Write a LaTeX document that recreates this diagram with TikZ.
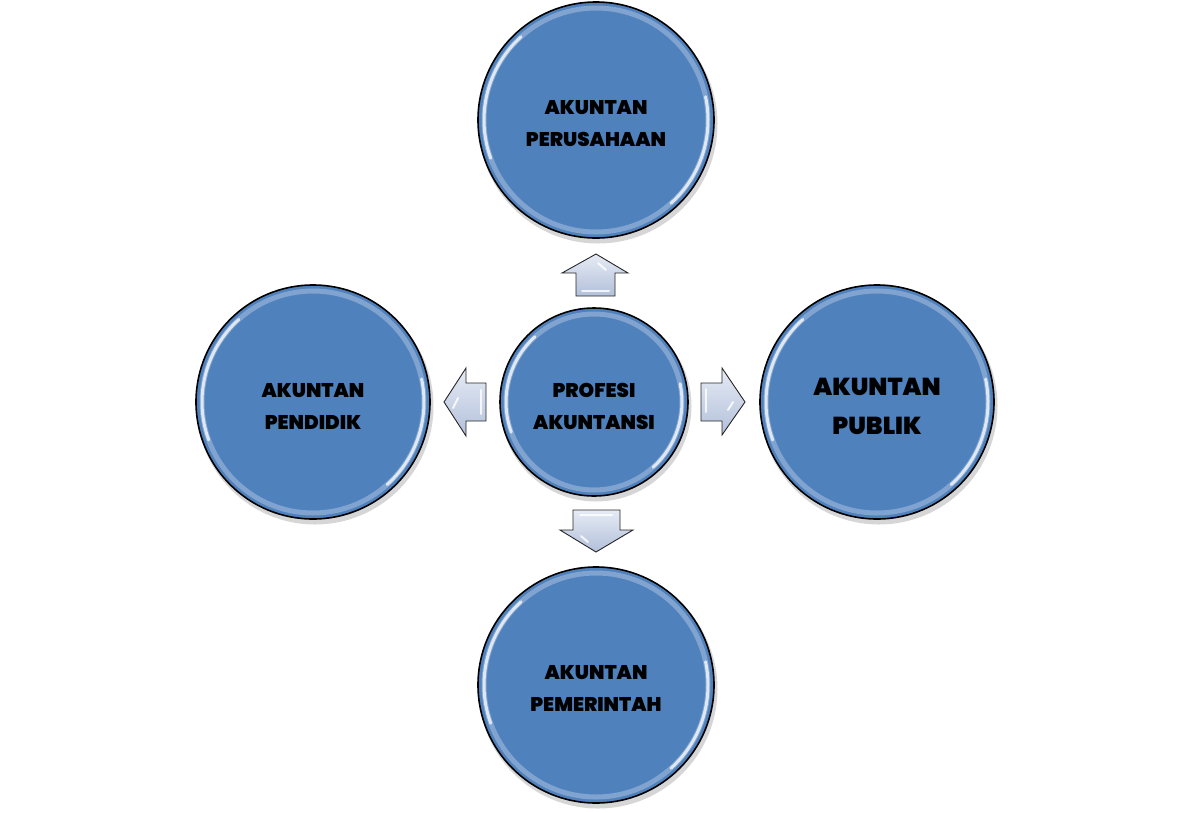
\documentclass[tikz,border=0pt]{standalone}
\usepackage{fontspec}
\setmainfont{Poppins}
\newfontfamily\heavy{Poppins Black}
\definecolor{bubfill}{HTML}{4F81BD}
\definecolor{arrA}{HTML}{E6EBF5}
\definecolor{arrB}{HTML}{B2C0DA}
\begin{document}
\begin{tikzpicture}[x=1pt,y=-1pt,
  bub/.style={circle, draw=black, line width=1.6pt, fill=bubfill, inner sep=0pt},
  txt/.style={align=center, text=black, inner sep=0pt, font=\heavy\fontsize{19.8}{32}\selectfont},
  bigtext/.style={font=\heavy\fontsize{24.5}{39}\selectfont},
  shade/.style={fill=black, opacity=0.16},
  glowring/.style={draw=white, opacity=0.28, line width=5pt},
  glowarc/.style={draw=white, opacity=0.75, line width=3pt, line cap=round},
  blockarrow/.style={draw=black!85, line width=0.9pt, top color=arrA, bottom color=arrB, line join=miter},
  bevel/.style={draw=white, opacity=0.8, line width=2pt, line cap=round}]
\useasboundingbox (0,0) rectangle (1189,812);

% soft shadows
\foreach \x/\y/\r in {596/120/118, 313/402/117, 877/402/117, 596/685/118, 594/402/94}
  \fill[shade] (\x+2,\y+4) circle (\r+1.5);

% circles
\node[bub, minimum size=236pt] (top) at (596,120) {};
\node[bub, minimum size=234pt] (left) at (313,402) {};
\node[bub, minimum size=234pt] (right) at (877,402) {};
\node[bub, minimum size=236pt] (bottom) at (596,685) {};
\node[bub, minimum size=188pt] (ctr) at (594,402) {};

% bevel glow
\foreach \n/\r in {top/118, left/117, right/117, bottom/118, ctr/94} {
  \draw[glowring] (\n.center) circle (\r-6);
  \draw[glowarc] ([shift={(160:\r-6)}]\n.center) arc (160:228:\r-6);
  \draw[glowarc] ([shift={(-12:\r-6)}]\n.center) arc (-12:48:\r-6);
}

% labels
\node[txt] (topt) at (596,124) {AKUNTAN\\PERUSAHAAN};
\node[txt] (leftt) at (313,406) {AKUNTAN\\PENDIDIK};
\node[txt, bigtext] (rightt) at (877,406) {AKUNTAN\\PUBLIK};
\node[txt] (bottomt) at (596,688) {AKUNTAN\\PEMERINTAH};
\node[txt] (ctrt) at (594,406) {PROFESI\\AKUNTANSI};

% block arrows
\draw[blockarrow] (596,254) -- (628,273) -- (615,273) -- (615,296) -- (576,296) -- (576,273) -- (562,273) -- cycle;
\draw[blockarrow] (444,402) -- (466,368) -- (466,383) -- (486,383) -- (486,421) -- (466,421) -- (466,436) -- cycle;
\draw[blockarrow] (745,402) -- (722,368) -- (722,383) -- (701,383) -- (701,421) -- (722,421) -- (722,435) -- cycle;
\draw[blockarrow] (596,552) -- (633,530) -- (620,530) -- (620,510) -- (573,510) -- (573,530) -- (560,530) -- cycle;

% arrow bevel highlights
\draw[bevel] (582,291) -- (609,291);
\draw[bevel] (598,263) -- (606,270);
\draw[bevel] (481,390) -- (481,414);
\draw[bevel] (458,398) -- (453,408);
\draw[bevel] (706,389) -- (706,412);
\draw[bevel] (733,402) -- (728,410);
\draw[bevel] (580,515) -- (612,515);
\draw[bevel] (588,542) -- (581,536);
\end{tikzpicture}
\end{document}
